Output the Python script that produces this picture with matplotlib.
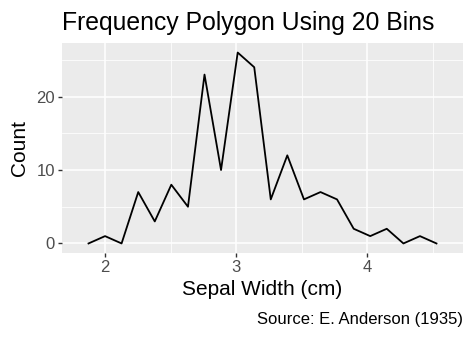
import matplotlib
matplotlib.use("Agg")
import matplotlib.pyplot as plt
import numpy as np

# bin centres (width ~0.1263) incl. the two zero pad bins, and counts
sepal_width = [1.874, 2.000, 2.126, 2.253, 2.379, 2.505, 2.632, 2.758, 2.884, 3.011, 3.137,
               3.263, 3.389, 3.516, 3.642, 3.768, 3.895, 4.021, 4.147, 4.274, 4.400, 4.526]
counts = [0, 1, 0, 7, 3, 8, 5, 23, 10, 26, 24, 6, 12, 6, 7, 6, 2, 1, 2, 0, 1, 0]
binwidth = 0.1263

plt.rcParams['font.family'] = ['Liberation Sans', 'DejaVu Sans']

W, H = 474, 338
fig = plt.figure(figsize=(W / 100, H / 100), dpi=100)
ax = fig.add_axes([62 / W, (H - 253) / H, 401 / W, 210 / H])
ax.set_facecolor('#EBEBEB')
for s in ax.spines.values():
    s.set_visible(False)

ax.plot(sepal_width, counts, color='black', lw=1.3, zorder=3)

ax.set_xticks([2, 3, 4])
ax.set_xticks([1.5, 2.5, 3.5, 4.5], minor=True)
ax.set_yticks([0, 10, 20])
ax.set_yticks([5, 15, 25], minor=True)

# ggplot-like limits: range of bin edges + 5% expansion
lo = sepal_width[0] - binwidth / 2
hi = sepal_width[-1] + binwidth / 2
ex = (hi - lo) * 0.05
ax.set_xlim(lo - ex, hi + ex)
ymax = max(counts)
ax.set_ylim(-ymax * 0.05, ymax * 1.05)

ax.grid(which='major', color='white', lw=1.1)
ax.grid(which='minor', color='white', lw=0.55)
ax.set_axisbelow(True)
ax.tick_params(which='major', length=3, width=1.0, color='#333333',
               labelsize=12, labelcolor='#4D4D4D', pad=2)
ax.tick_params(which='minor', length=0)

ax.set_xlabel('Sepal Width (cm)', fontsize=15, labelpad=3.5)
ax.set_ylabel('Count', fontsize=15, labelpad=5)

fig.text(62 / W, 1 - 30 / H, 'Frequency Polygon Using 20 Bins', fontsize=17.8, ha='left', va='baseline')
fig.text(463 / W, 1 - 324 / H, 'Source: E. Anderson (1935)', fontsize=12, ha='right', va='baseline')

fig.savefig('out.png', dpi=100)
